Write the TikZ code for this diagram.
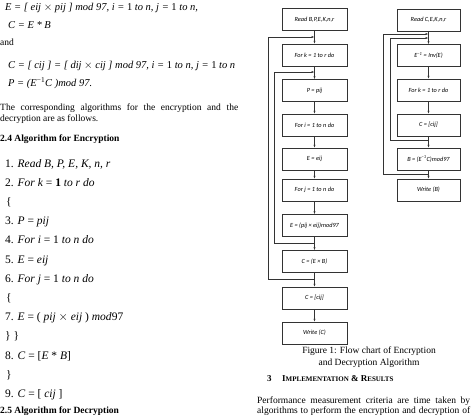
\documentclass[tikz,border=0pt]{standalone}
\usepackage{fontspec}
\setmainfont{Liberation Serif}
\newfontfamily\chartfont{Carlito}
\usetikzlibrary{arrows.meta}
\begin{document}
\begin{tikzpicture}[x=1pt,y=-1pt,
  fbox/.style={draw=black!80, line width=0.5pt, minimum width=65pt, minimum height=22pt, inner sep=0pt, font=\chartfont\itshape\fontsize{6.3}{7}\selectfont},
  fboxr/.style={fbox, minimum width=63pt},
  arr/.style={draw=black!80, line width=0.5pt, -{Latex[length=3pt,width=2.2pt]}},
  body/.style={anchor=base west, inner sep=0pt, font=\fontsize{9.5}{11}\selectfont},
  eq/.style={anchor=base west, inner sep=0pt, font=\itshape\fontsize{10.5}{12}\selectfont},
  lst/.style={anchor=base west, inner sep=0pt, font=\fontsize{11.5}{13}\selectfont},
]
\useasboundingbox (0,0) rectangle (474,415);
\clip (0,0) rectangle (474,415);

% ---- left column text ----
\node[eq] (e1) at (5,10.5) {E = [ eij {\upshape$\times$} pij ] mod 97, i = {\upshape 1} to n, j = {\upshape 1} to n,};
\node[eq] (e2) at (8,28) {C = E * B};
\node[body] (t1) at (0,45) {and};
\node[eq] (e3) at (8,68) {C = [ cij ] = [ dij {\upshape$\times$} cij ] mod 97, i = {\upshape 1} to n, j = {\upshape 1} to n};
\node[eq] (e4) at (8,86) {P = (E\textsuperscript{\upshape −1}C )mod 97.};
\node[body] (p1) at (0,110) {\makebox[238pt][s]{The corresponding algorithms for the encryption and the}};
\node[body] (p2) at (0,121) {decryption are as follows.};
\node[body, font=\bfseries\fontsize{9.5}{11}\selectfont] (h1) at (0,141) {2.4 Algorithm for Encryption};

\node[lst] (l1) at (5,167) {1. \textit{Read B, P, E, K, n, r}};
\node[lst] (l2) at (5,186.2) {2. \textit{For k} = \textbf{1} \textit{to r do}};
\node[lst] (l3) at (6,205.4) {\{};
\node[lst] (l4) at (5,224.6) {3. \textit{P} = \textit{pij}};
\node[lst] (l5) at (5,243.8) {4. \textit{For i} = 1 \textit{to n do}};
\node[lst] (l6) at (5,263) {5. \textit{E} = \textit{eij}};
\node[lst] (l7) at (5,282.2) {6. \textit{For j} = 1 \textit{to n do}};
\node[lst] (l8) at (6,301.4) {\{};
\node[lst] (l9) at (5,320.6) {7. \textit{E} = ( \textit{pij} $\times$ \textit{eij} ) \textit{mod}97};
\node[lst] (l10) at (5,339.8) {\} \}};
\node[lst] (l11) at (5,359) {8. \textit{C} = [\textit{E} * \textit{B}]};
\node[lst] (l12) at (6,378.2) {\}};
\node[lst] (l13) at (5,397.4) {9. \textit{C} = [ \textit{cij} ]};
\node[body, font=\bfseries\fontsize{9.5}{11}\selectfont] (h2) at (0,413) {2.5 Algorithm for Decryption};

% ---- encryption flowchart ----
\node[fbox] (a1) at (314.5,19.5) {Read B,P,E,K,n,r};
\node[fbox] (a2) at (314.5,55) {For k = 1 to r do};
\node[fbox] (a3) at (314.5,90.5) {P = pij};
\node[fbox] (a4) at (314.5,125) {For i = 1 to n do};
\node[fbox] (a5) at (314.5,159) {E = eij};
\node[fbox] (a6) at (314.5,190) {For j = 1 to n do};
\node[fbox] (a7) at (314.5,225.5) {E = (pij × eij)mod97};
\node[fbox] (a8) at (314.5,261.5) {C = (E × B)};
\node[fbox] (a9) at (314.5,298) {C = [cij]};
\node[fbox] (a10) at (314.5,333) {Write (C)};
\foreach \i/\j in {a1/a2,a2/a3,a3/a4,a4/a5,a5/a6,a6/a7,a7/a8,a8/a9,a9/a10}
  \draw[arr] (\i) -- (\j);
\coordinate (lob) at (314.5,279);
\coordinate (lot) at (314.5,37);
\coordinate (lib) at (314.5,243);
\coordinate (lit) at (314.5,72);
\draw[arr] (lob) -- (268,279) -- (268,37) -- (lot);
\draw[arr] (lib) -- (274,243) -- (274,72) -- (lit);

% ---- decryption flowchart ----
\node[fboxr] (b1) at (428.5,20) {Read C,E,K,n,r};
\node[fboxr] (b2) at (428.5,55.5) {E\textsuperscript{−1} = Inv(E)};
\node[fboxr] (b3) at (428.5,90) {For k = 1 to r do};
\node[fboxr] (b4) at (428.5,125) {C = [cij]};
\node[fboxr] (b5) at (428.5,159) {B = (E\textsuperscript{−1}C)mod97};
\node[fboxr] (b6) at (428.5,190) {Write (B)};
\foreach \i/\j in {b1/b2,b2/b3,b3/b4,b4/b5,b5/b6}
  \draw[arr] (\i) -- (\j);
\coordinate (rob) at (428.5,174);
\coordinate (rot) at (428.5,34);
\coordinate (rib) at (428.5,140);
\coordinate (rit) at (428.5,38);
\draw[arr] (rob) -- (383,174) -- (383,34) -- (rot);
\draw[arr] (rib) -- (390,140) -- (390,38) -- (rit);

% ---- right column text ----
\node[anchor=base, inner sep=0pt, font=\fontsize{9.5}{11}\selectfont] (c1) at (369,353) {Figure 1: Flow chart of Encryption};
\node[anchor=base, inner sep=0pt, font=\fontsize{9.5}{11}\selectfont] (c2) at (369,365) {and Decryption Algorithm};
\node[body, font=\bfseries\fontsize{9}{10}\selectfont] (s1) at (267,381) {3};
\node[body, font=\bfseries\fontsize{9}{10}\selectfont] (s2) at (282,381) {I{\fontsize{7}{8}\selectfont MPLEMENTATION} \& R{\fontsize{7}{8}\selectfont ESULTS}};
\node[body] (r1) at (257,403) {\makebox[213pt][s]{Performance measurement criteria are time taken by}};
\node[body] (r2) at (257,413) {\makebox[213pt][s]{algorithms to perform the encryption and decryption of}};
\end{tikzpicture}
\end{document}
